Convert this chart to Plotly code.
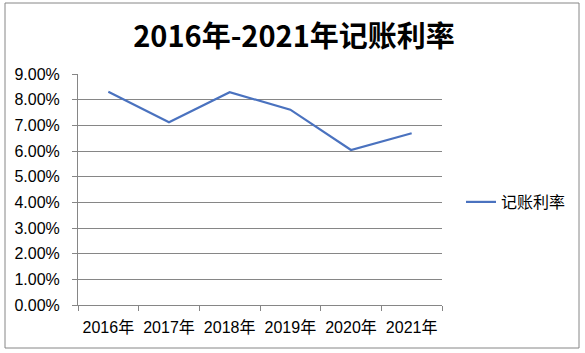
import plotly.graph_objects as go

years = ["2016年", "2017年", "2018年", "2019年", "2020年", "2021年"]
rates = [0.0831, 0.0712, 0.0829, 0.0761, 0.0604, 0.0669]
series_name = "记账利率"
title_text = "2016年-2021年记账利率"

W, H = 585, 353
L, R, T, B = 78, 143, 74, 48
pw, ph = W - L - R, H - T - B

def px_x(x):
    return (x - L) / pw

def px_y(y):
    return (H - B - y) / ph

grey = "#868686"
font_fam = "Liberation Sans, Noto Sans CJK SC, sans-serif"

fig = go.Figure()
fig.add_trace(go.Scatter(
    x=years, y=rates, mode="lines", name=series_name,
    line=dict(color="#4A72BF", width=2.2),
))

fig.update_layout(
    width=W, height=H,
    margin=dict(l=L, r=R, t=T, b=B),
    paper_bgcolor="white", plot_bgcolor="white",
    title=dict(text=f"<b>{title_text}</b>", x=294 / W, xanchor="center",
               y=1 - 37 / H, yanchor="middle", yref="container",
               font=dict(family="Noto Sans CJK SC, sans-serif", size=29, color="#000")),
    showlegend=True,
    legend=dict(x=px_x(461), xanchor="left", y=px_y(202), yanchor="middle",
                font=dict(family=font_fam, size=16, color="#000"),
                bgcolor="rgba(0,0,0,0)"),
    font=dict(family=font_fam, size=16, color="#000"),
    xaxis=dict(type="category", range=[-0.5, 5.5], showgrid=False,
               showline=True, linecolor=grey, linewidth=1,
               ticks="outside", tickson="boundaries", ticklen=5, tickcolor=grey,
               ticklabelstandoff=8,
               tickfont=dict(size=16, color="#000")),
    yaxis=dict(range=[0, 0.09], dtick=0.01, tick0=0, tickformat=".2%",
               showgrid=True, gridcolor=grey, gridwidth=1,
               showline=True, linecolor=grey, linewidth=1,
               ticks="outside", ticklen=5, tickcolor=grey, zeroline=False,
               ticklabelstandoff=9,
               tickfont=dict(size=16, color="#000")),
    shapes=[dict(type="rect", xref="paper", yref="paper",
                 x0=px_x(5), x1=px_x(579), y0=px_y(348), y1=px_y(3),
                 line=dict(color=grey, width=1), fillcolor="rgba(0,0,0,0)",
                 layer="below")],
)

fig.write_html("out.html")
